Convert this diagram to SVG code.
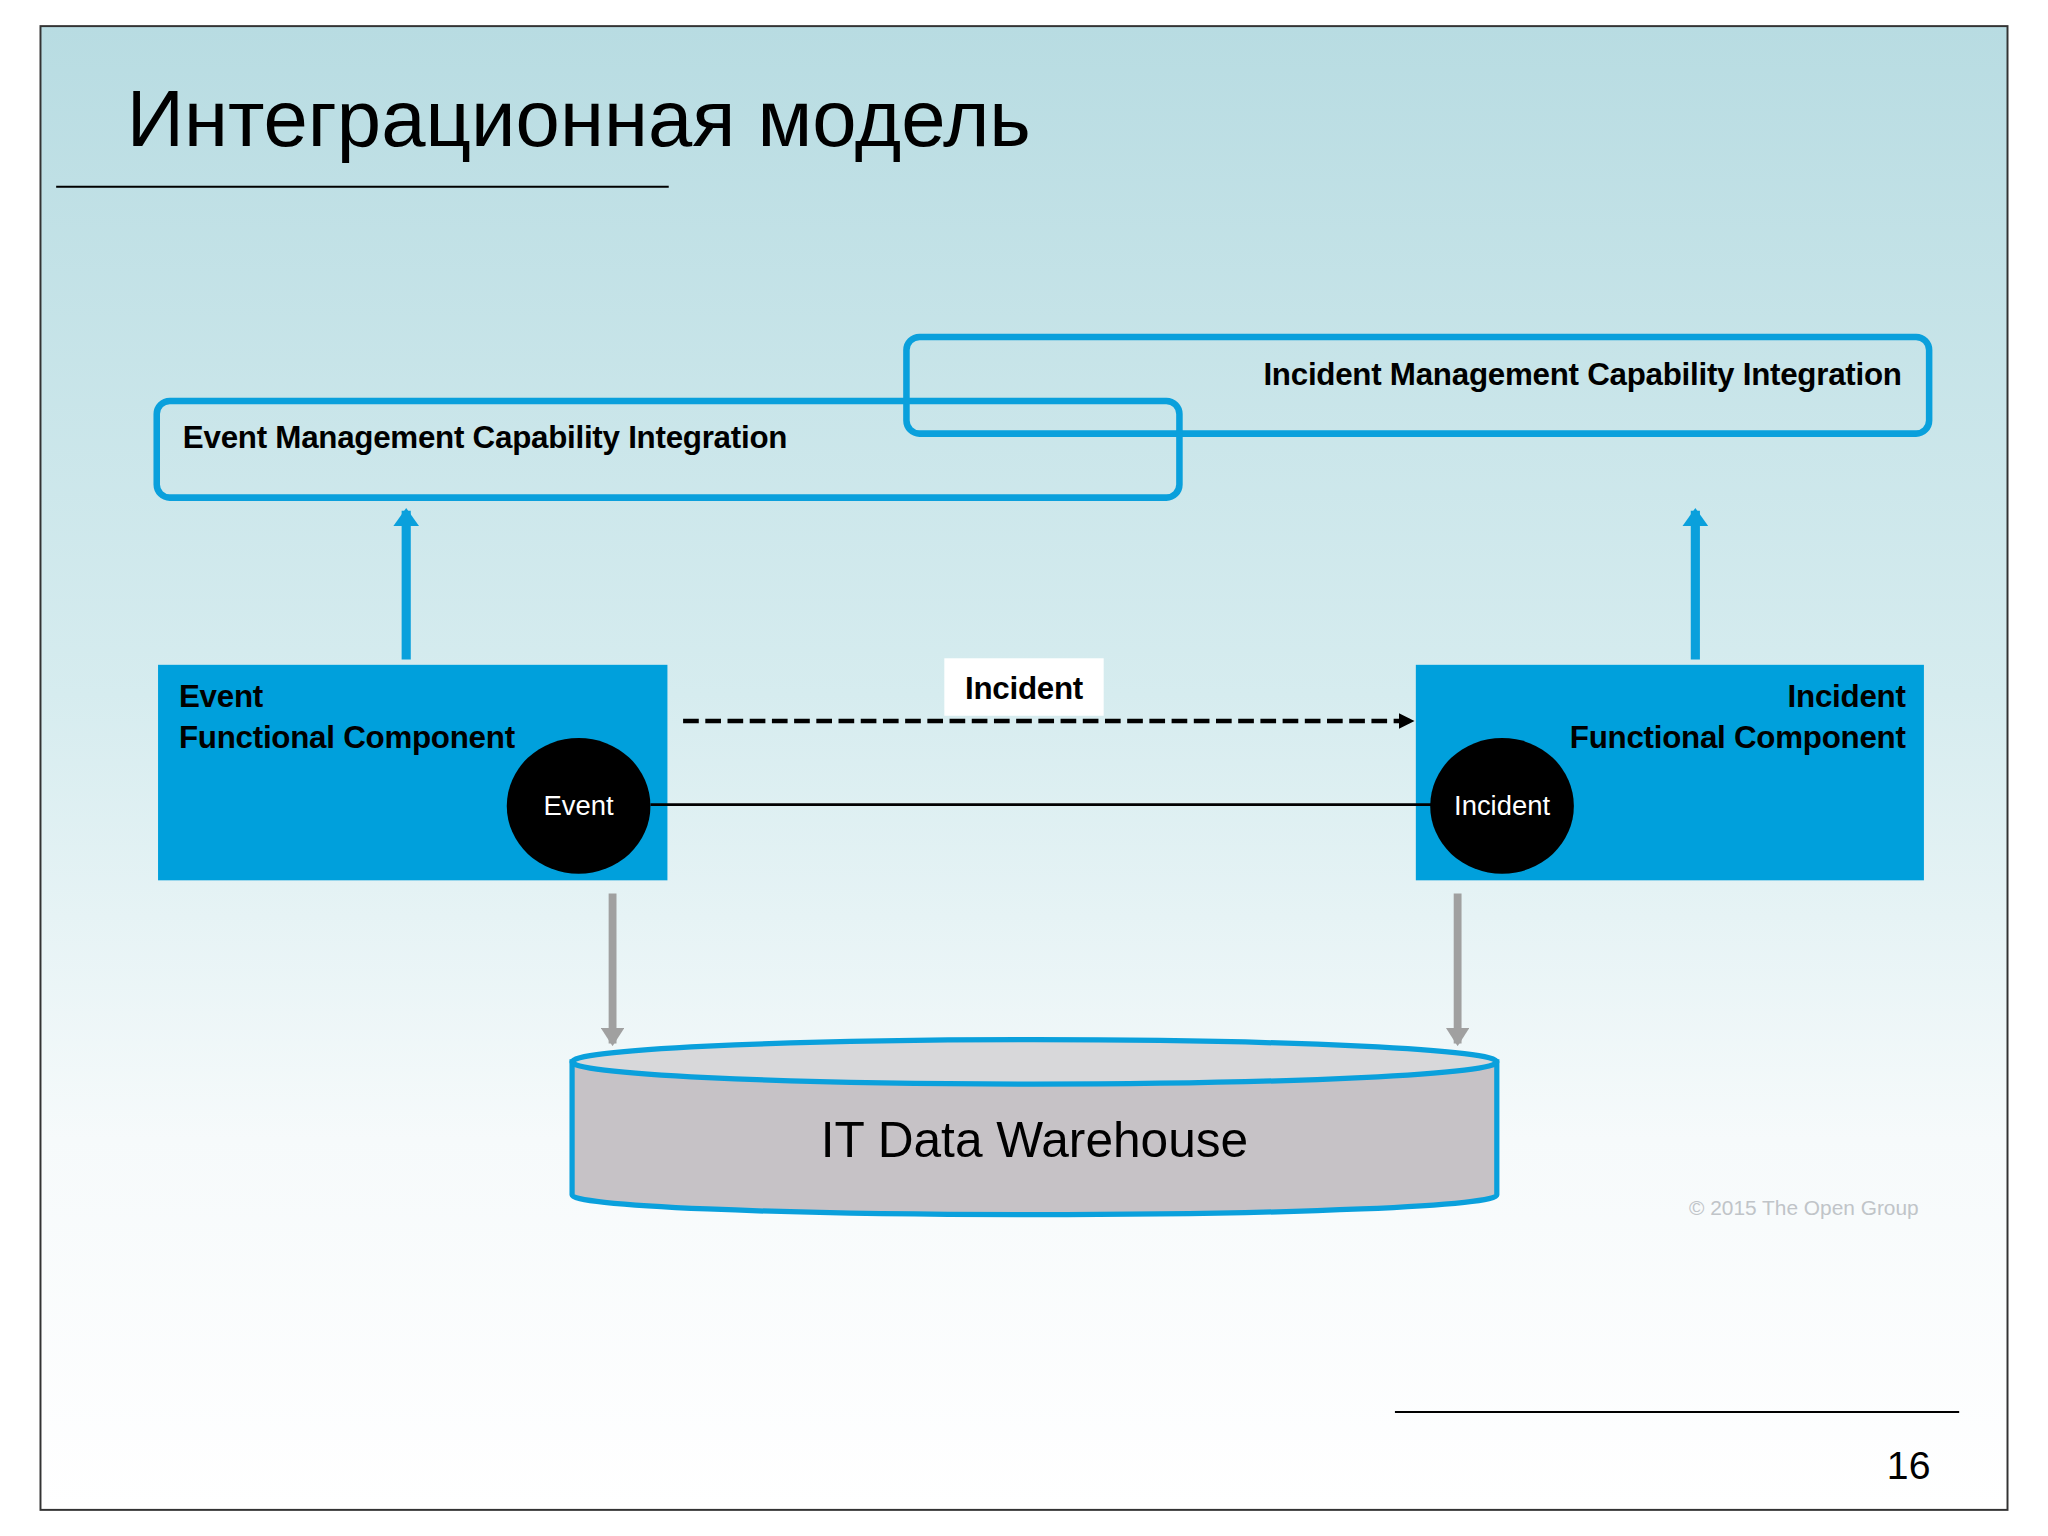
<svg xmlns="http://www.w3.org/2000/svg" width="2048" height="1536" viewBox="0 0 2048 1536">
<defs>
<linearGradient id="bg" x1="0" y1="0" x2="0" y2="1">
<stop offset="0" stop-color="#b8dce2"/><stop offset="0.45" stop-color="#d6ecef"/><stop offset="0.75" stop-color="#f6fafb"/><stop offset="1" stop-color="#ffffff"/>
</linearGradient>
<marker id="blk" markerWidth="12" markerHeight="12" refX="10" refY="6" orient="auto" markerUnits="userSpaceOnUse"><path d="M0,0 L12,6 L0,12 Z" fill="#000"/></marker>
<marker id="blu" markerWidth="14" markerHeight="20" refX="12" refY="10" orient="auto" markerUnits="userSpaceOnUse"><path d="M0,0 L14,10 L0,20 Z" fill="#0aa0dc"/></marker>
<marker id="gry" markerWidth="14" markerHeight="18" refX="12" refY="9" orient="auto" markerUnits="userSpaceOnUse"><path d="M0,0 L14,9 L0,18 Z" fill="#a0a0a0"/></marker>
<style>
.t{font-family:"Liberation Sans",Arial,sans-serif}
.cap{fill:none;stroke:#0aa0dc;stroke-width:5}
.fc{fill:#00a0dc}
.lbl{font-size:24px;fill:#000;font-weight:bold;letter-spacing:-0.2px}
.cir{font-size:21px;fill:#fff}
</style>
</defs>
<g transform="scale(1.30612)">
<rect x="31" y="20" width="1506" height="1136" fill="url(#bg)" stroke="#333" stroke-width="1.5"/>
<text class="t" x="97" y="112" font-size="61" fill="#000">Интеграционная модель</text>
<line x1="43" y1="143" x2="512" y2="143" stroke="#000" stroke-width="1.5"/>
<g id="incident-cap"><rect class="cap" x="694" y="258" width="783" height="74" rx="10"/>
<text class="t lbl" x="1456" y="295" text-anchor="end">Incident Management Capability Integration</text></g>
<g id="event-cap"><rect class="cap" x="120" y="307" width="783" height="74" rx="10"/>
<text class="t lbl" x="140" y="343">Event Management Capability Integration</text></g>
<g id="event-fc"><rect class="fc" x="121" y="509" width="390" height="165"/>
<text class="t lbl" x="137" y="541">Event</text><text class="t lbl" x="137" y="573">Functional Component</text></g>
<g id="incident-fc"><rect class="fc" x="1084" y="509" width="389" height="165"/>
<text class="t lbl" x="1459" y="541" text-anchor="end">Incident</text><text class="t lbl" x="1459" y="573" text-anchor="end">Functional Component</text></g>
<g id="connectors">
<line x1="311" y1="505" x2="311" y2="391" stroke="#0aa0dc" stroke-width="7" marker-end="url(#blu)"/>
<line x1="1298" y1="505" x2="1298" y2="391" stroke="#0aa0dc" stroke-width="7" marker-end="url(#blu)"/>
<line x1="498" y1="616" x2="1096" y2="616" stroke="#000" stroke-width="2"/>
<line x1="523" y1="552" x2="1081" y2="552" stroke="#000" stroke-width="3.5" stroke-dasharray="12,5" marker-end="url(#blk)"/>
<line x1="469" y1="684" x2="469" y2="799" stroke="#a0a0a0" stroke-width="6" marker-end="url(#gry)"/>
<line x1="1116" y1="684" x2="1116" y2="799" stroke="#a0a0a0" stroke-width="6" marker-end="url(#gry)"/>
</g>
<g id="incident-label"><rect x="723" y="504" width="122" height="44" fill="#fff"/>
<text class="t lbl" x="784" y="535" text-anchor="middle">Incident</text></g>
<g id="event-circle"><ellipse cx="443" cy="617" rx="55" ry="52" fill="#000"/><text class="t cir" x="443" y="624" text-anchor="middle">Event</text></g>
<g id="incident-circle"><ellipse cx="1150" cy="617" rx="55" ry="52" fill="#000"/><text class="t cir" x="1150" y="624" text-anchor="middle">Incident</text></g>
<g id="warehouse">
<path d="M438,813 L438,915 A354,15 0 0 0 1146,915 L1146,813 Z" fill="#c6c2c6" stroke="#0aa0dc" stroke-width="4"/>
<ellipse cx="792" cy="813" rx="354" ry="17" fill="#d8d8da" stroke="#0aa0dc" stroke-width="4"/>
<text class="t" x="792" y="886" font-size="38" text-anchor="middle" fill="#000">IT Data Warehouse</text>
</g>
<text class="t" x="1469" y="930" font-size="16" fill="#c0c4c8" text-anchor="end">© 2015 The Open Group</text>
<line x1="1068" y1="1081" x2="1500" y2="1081" stroke="#000" stroke-width="1.5"/>
<text class="t" x="1478" y="1132" font-size="30" fill="#000" text-anchor="end">16</text>
</g>
</svg>
